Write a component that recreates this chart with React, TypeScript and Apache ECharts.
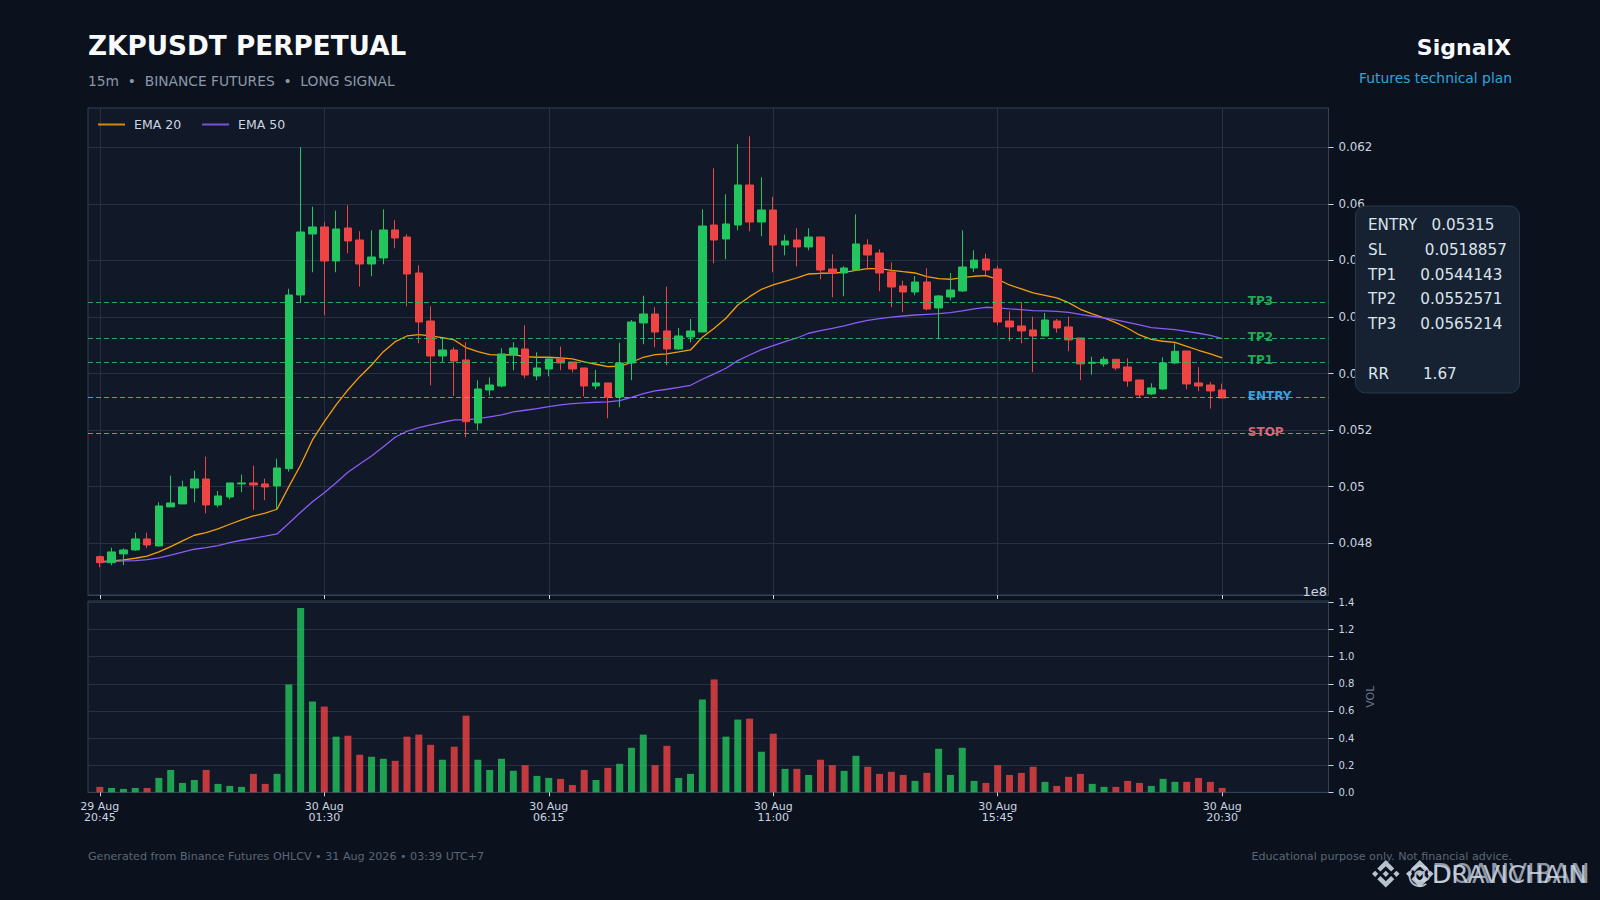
import React, { useEffect, useRef } from "react";
import * as echarts from "echarts";

const TITLE = "ZKPUSDT PERPETUAL";
const SUBTITLE = "15m  •  BINANCE FUTURES  •  LONG SIGNAL";
const BRAND = "SignalX";
const BRAND_SUB = "Futures technical plan";
const FOOT_LEFT = "Generated from Binance Futures OHLCV • 31 Aug 2026 • 03:39 UTC+7";
const FOOT_RIGHT = "Educational purpose only. Not financial advice.";
const PANEL_LINES = ["ENTRY   0.05315", "SL        0.0518857", "TP1     0.0544143", "TP2     0.0552571", "TP3     0.0565214", "", "RR       1.67"];

const TICK_LABELS = ["29 Aug\n20:45", "30 Aug\n01:30", "30 Aug\n06:15", "30 Aug\n11:00", "30 Aug\n15:45", "30 Aug\n20:30"];
const PRICE_TICKS = [0.048, 0.05, 0.052, 0.054, 0.056, 0.058, 0.06, 0.062];
const VOLUME_TICKS = [0, 0.2, 0.4, 0.6, 0.8, 1.0, 1.2, 1.4];

const LEVEL_NAMES = ["TP3", "TP2", "TP1", "ENTRY", "STOP"];
const LEVEL_VALUES = [0.0565214, 0.0552571, 0.0544143, 0.05315, 0.0518857];
const LEVEL_COLORS = ["#22c55e", "#22c55e", "#22c55e", "#38bdf8", "#fb7185"];

const OPEN = [0.047526,0.047314,0.047622,0.047763,0.048152,0.047905,0.049284,0.04939,0.049955,0.050273,0.049354,0.049637,0.050097,0.050132,0.050097,0.050026,0.050638,0.056779,0.058935,0.059183,0.057981,0.059147,0.058723,0.057875,0.058087,0.059077,0.058829,0.057556,0.055859,0.054622,0.054834,0.054481,0.052253,0.05342,0.053561,0.054657,0.054869,0.053915,0.054162,0.054516,0.05441,0.054198,0.053561,0.053668,0.053172,0.054374,0.055789,0.056107,0.055506,0.054869,0.055294,0.05547,0.059253,0.058758,0.059253,0.060668,0.059359,0.059784,0.058546,0.058723,0.058476,0.058829,0.057698,0.057556,0.057662,0.058546,0.058263,0.057592,0.057097,0.056885,0.057238,0.056319,0.056708,0.05692,0.057733,0.058051,0.057698,0.055859,0.055683,0.055541,0.055329,0.055859,0.055648,0.055258,0.054364,0.054339,0.054505,0.054233,0.053773,0.053279,0.053455,0.054374,0.054799,0.053668,0.053597,0.05342];
const HIGH = [0.047562,0.047845,0.047823,0.048375,0.048375,0.04945,0.05039,0.050213,0.050567,0.051062,0.049849,0.050132,0.050426,0.050744,0.050284,0.050991,0.057001,0.062,0.0599,0.059349,0.059759,0.05995,0.059031,0.059066,0.059808,0.05942,0.058925,0.057829,0.056379,0.055248,0.05493,0.055106,0.053763,0.053862,0.054894,0.055106,0.055707,0.054753,0.054587,0.054951,0.05441,0.054198,0.054127,0.053668,0.055092,0.055895,0.056754,0.056344,0.057072,0.055612,0.05593,0.059808,0.061258,0.060339,0.062106,0.062389,0.06094,0.060254,0.05891,0.059137,0.059137,0.05884,0.058218,0.057793,0.059632,0.058748,0.058394,0.057928,0.057284,0.05745,0.057723,0.056779,0.057556,0.059066,0.058359,0.058239,0.057814,0.056202,0.056531,0.056011,0.056142,0.05593,0.056011,0.055258,0.054598,0.054598,0.054505,0.054541,0.053773,0.053657,0.054576,0.055071,0.054799,0.054223,0.053703,0.053643];
const LOW = [0.047152,0.047222,0.047222,0.047728,0.047823,0.047887,0.049284,0.04939,0.04945,0.049061,0.049273,0.049556,0.049803,0.049177,0.04952,0.049202,0.050531,0.056521,0.057581,0.056061,0.057581,0.058253,0.057072,0.05744,0.057864,0.05843,0.056379,0.055071,0.053586,0.054399,0.053208,0.051748,0.051995,0.053226,0.053515,0.054116,0.053834,0.053763,0.053904,0.054116,0.054046,0.053198,0.053445,0.052419,0.052808,0.053763,0.055036,0.05493,0.054293,0.054834,0.055106,0.05547,0.057899,0.058041,0.059066,0.059031,0.058854,0.057581,0.058182,0.057793,0.058359,0.057334,0.056697,0.056733,0.057662,0.057662,0.056909,0.056344,0.056167,0.056768,0.056238,0.055212,0.056591,0.056885,0.057592,0.057486,0.055707,0.055142,0.055071,0.054046,0.055329,0.055446,0.054788,0.053763,0.053961,0.054244,0.054116,0.053537,0.053148,0.053243,0.053431,0.054329,0.053445,0.053374,0.052759,0.053137];
const CLOSE = [0.047314,0.047693,0.047763,0.048152,0.04794,0.049319,0.049425,0.049991,0.050273,0.049354,0.049672,0.050132,0.050132,0.050061,0.049991,0.050662,0.056779,0.059006,0.059183,0.057981,0.059112,0.058688,0.057875,0.058122,0.059077,0.058794,0.057521,0.055824,0.054622,0.054834,0.054445,0.052299,0.053455,0.053597,0.054693,0.054905,0.05395,0.054198,0.054516,0.054374,0.054162,0.053561,0.053668,0.053162,0.054374,0.055824,0.056107,0.05547,0.054869,0.055329,0.055506,0.059218,0.058723,0.059289,0.060668,0.059359,0.059784,0.058546,0.058688,0.058476,0.058829,0.057662,0.057556,0.057733,0.058582,0.058193,0.057556,0.057061,0.056885,0.057238,0.056284,0.056743,0.056955,0.057768,0.058016,0.057662,0.055824,0.055648,0.055506,0.055329,0.055895,0.055612,0.055188,0.054339,0.054399,0.054505,0.054198,0.053738,0.053243,0.053491,0.054374,0.054788,0.053632,0.053561,0.053385,0.053137];
const EMA20 = [0.04735,0.047374,0.04741,0.04747,0.047541,0.047693,0.04788,0.048082,0.048283,0.048375,0.048506,0.048672,0.048824,0.048965,0.049061,0.049202,0.050001,0.050768,0.051652,0.052299,0.05289,0.05342,0.05389,0.054304,0.054774,0.055128,0.055329,0.055375,0.055329,0.055269,0.055188,0.054915,0.054774,0.054668,0.054657,0.054668,0.054598,0.054576,0.054576,0.054551,0.054516,0.05441,0.054329,0.054244,0.054258,0.054399,0.054576,0.054668,0.054693,0.054763,0.054834,0.055283,0.055601,0.055955,0.056425,0.056719,0.05698,0.057132,0.057263,0.05738,0.057521,0.057546,0.057556,0.057581,0.057652,0.057708,0.057708,0.057652,0.057602,0.057556,0.057425,0.057355,0.057334,0.05739,0.05744,0.057461,0.057334,0.057132,0.056991,0.056849,0.056768,0.056673,0.056507,0.056273,0.056107,0.055965,0.055799,0.055601,0.055364,0.055212,0.055142,0.055106,0.054965,0.054824,0.054693,0.054551];
const EMA50 = [0.047328,0.04735,0.047374,0.047385,0.04742,0.04748,0.047576,0.047682,0.047788,0.047845,0.047915,0.048021,0.048106,0.048177,0.048248,0.048329,0.048708,0.049096,0.049471,0.049789,0.050143,0.05051,0.050804,0.051087,0.051415,0.051748,0.05196,0.052087,0.052183,0.052278,0.052359,0.052359,0.052405,0.052472,0.052536,0.052642,0.052702,0.052759,0.05283,0.05289,0.052936,0.05296,0.052985,0.052996,0.053042,0.053162,0.053289,0.053385,0.053445,0.053515,0.053586,0.053798,0.053986,0.054187,0.054456,0.054657,0.054845,0.054986,0.055128,0.055258,0.055425,0.055517,0.055601,0.055683,0.055789,0.055884,0.055941,0.055994,0.056036,0.056071,0.056096,0.056118,0.056153,0.056213,0.056284,0.056344,0.056319,0.056284,0.056259,0.056224,0.056213,0.056202,0.056167,0.056096,0.056026,0.055965,0.055895,0.055813,0.055718,0.055623,0.055587,0.055552,0.055495,0.055425,0.055354,0.055234];
const VOLUME = [0.04,0.032,0.025,0.032,0.032,0.106,0.165,0.069,0.091,0.165,0.062,0.047,0.04,0.136,0.062,0.136,0.795,1.358,0.669,0.632,0.41,0.417,0.277,0.262,0.247,0.232,0.41,0.425,0.35,0.24,0.336,0.565,0.24,0.165,0.247,0.158,0.2,0.121,0.106,0.099,0.054,0.165,0.091,0.18,0.21,0.328,0.425,0.2,0.343,0.106,0.136,0.684,0.832,0.41,0.536,0.543,0.299,0.432,0.173,0.173,0.128,0.24,0.2,0.158,0.269,0.188,0.136,0.151,0.128,0.084,0.143,0.321,0.128,0.328,0.084,0.069,0.2,0.128,0.143,0.188,0.077,0.047,0.114,0.136,0.062,0.04,0.04,0.084,0.069,0.047,0.099,0.077,0.077,0.106,0.077,0.032];

const GREEN = "#22c55e";
const RED = "#ef4444";
const FONT = "DejaVu Sans";
const SLOTS = 106;
const TICK_STEP = 19;
const BINANCE_D = "M16.624 13.9202l2.7175 2.7154-7.353 7.353-7.353-7.352 2.7175-2.7164 4.6355 4.6595 4.6356-4.6595zm4.6366-4.6366L24 12l-2.7154 2.7164L18.5682 12l2.6924-2.7164zm-9.272.001l2.7163 2.6914-2.7164 2.7174v-.001L9.2721 12l2.7164-2.7154zm-9.2722-.001L5.4088 12l-2.6914 2.6924L0 12l2.7164-2.7164zM11.9885.0115l7.353 7.329-2.7174 2.7154-4.6356-4.6356-4.6355 4.6595-2.7174-2.7154 7.353-7.353z";

const categories = Array.from({ length: SLOTS }, (_, k) => {
  const n = k - 1;
  return n >= 0 && n % TICK_STEP === 0 && n / TICK_STEP < TICK_LABELS.length ? TICK_LABELS[n / TICK_STEP] : "";
});
const isTick = (index: number) => categories[index] !== "";

function txt(text: string, x: number, y: number, fill: string, fontSize: number, extra: any = {}) {
  return {
    type: "text",
    z: 100,
    silent: true,
    style: { text, x, y, fill, fontSize, fontFamily: FONT, textVerticalAlign: "middle", ...extra },
  };
}

export default function App() {
  const ref = useRef<HTMLDivElement>(null);
  useEffect(() => {
    document.body.style.margin = "0";
    document.body.style.background = "#0b121e";
    echarts.graphic.registerShape("binanceLogo", echarts.graphic.extendPath(BINANCE_D, {}));
    const chart = echarts.init(ref.current!, undefined, { renderer: "svg" });
    const axisColor = "#334155";
    const gridColor = "#263243";
    const labelColor = "#cbd5e1";
    const logo = (x: number) => ({
      type: "binanceLogo",
      x,
      y: 860,
      scaleX: 1.15,
      scaleY: 1.15,
      z: 100,
      silent: true,
      style: { fill: "#cbd5e1", opacity: 0.9 },
    });
    chart.setOption({
      animation: false,
      backgroundColor: "#0b121e",
      textStyle: { fontFamily: FONT },
      legend: {
        data: ["EMA 20", "EMA 50"],
        icon: "rect",
        left: 98,
        top: 118,
        padding: 0,
        itemWidth: 27,
        itemHeight: 2,
        itemGap: 21,
        textStyle: { color: labelColor, fontSize: 12.5, fontFamily: FONT, padding: [0, 0, 0, 4] },
        itemStyle: { opacity: 0.85 },
      },
      grid: [
        { left: 88, right: 271.5, top: 108, height: 487, show: true, backgroundColor: "#111827", borderColor: axisColor, borderWidth: 1 },
        { left: 88, right: 271.5, top: 601, height: 191.3, show: true, backgroundColor: "#111827", borderColor: axisColor, borderWidth: 1 },
      ],
      xAxis: [
        {
          type: "category",
          gridIndex: 0,
          data: categories,
          boundaryGap: false,
          axisLine: { lineStyle: { color: axisColor } },
          axisTick: { show: true, interval: isTick, length: 4, lineStyle: { color: labelColor } },
          axisLabel: { show: false },
          splitLine: { show: true, interval: isTick, lineStyle: { color: gridColor } },
        },
        {
          type: "category",
          gridIndex: 1,
          data: categories,
          boundaryGap: false,
          axisLine: { lineStyle: { color: axisColor } },
          axisTick: { show: true, interval: isTick, length: 4, lineStyle: { color: labelColor } },
          axisLabel: { show: true, interval: isTick, color: labelColor, fontSize: 11, lineHeight: 11, margin: 9 },
          splitLine: { show: false },
        },
      ],
      yAxis: [
        {
          type: "value",
          gridIndex: 0,
          position: "right",
          min: 0.04617,
          max: 0.06339,
          axisLine: { show: true, lineStyle: { color: axisColor } },
          axisTick: { show: true, length: 5, customValues: PRICE_TICKS, lineStyle: { color: labelColor } },
          axisLabel: { color: labelColor, fontSize: 11.8, margin: 10, customValues: PRICE_TICKS, formatter: (v: number) => String(v) },
          splitLine: { show: true, lineStyle: { color: gridColor } },
        },
        {
          type: "value",
          gridIndex: 1,
          position: "right",
          min: 0,
          max: 1.41,
          name: "VOL",
          nameLocation: "middle",
          nameRotate: 90,
          nameGap: 27,
          nameTextStyle: { color: "#6b7686", fontSize: 11 },
          axisLine: { show: true, lineStyle: { color: axisColor } },
          axisTick: { show: true, length: 5, customValues: VOLUME_TICKS, lineStyle: { color: labelColor } },
          axisLabel: { color: labelColor, fontSize: 10, margin: 10, customValues: VOLUME_TICKS, formatter: (v: number) => v.toFixed(1) },
          splitLine: { show: true, lineStyle: { color: gridColor } },
        },
      ],
      series: [
        {
          name: "levels",
          type: "scatter",
          xAxisIndex: 0,
          yAxisIndex: 0,
          z: 1,
          silent: true,
          symbolSize: 0,
          data: LEVEL_NAMES.map((name, i) => ({
            name,
            value: [98, LEVEL_VALUES[i]],
            label: {
              show: true,
              position: "right",
              distance: 0,
              offset: [2, -1.5],
              formatter: name,
              color: LEVEL_COLORS[i],
              opacity: 0.85,
              fontSize: 12,
              fontWeight: "bold",
              fontFamily: FONT,
            },
          })),
          markLine: {
            silent: true,
            symbol: "none",
            precision: 7,
            label: { show: false },
            data: LEVEL_VALUES.map((v, i) => ({
              yAxis: v,
              lineStyle: { color: LEVEL_COLORS[i], type: [5, 3], width: 1.2, opacity: 0.85 },
            })),
          },
        },
        {
          name: "EMA 20",
          type: "line",
          xAxisIndex: 0,
          yAxisIndex: 0,
          z: 2,
          showSymbol: false,
          symbol: "none",
          lineStyle: { color: "#f59e0b", width: 1.3 },
          itemStyle: { color: "#f59e0b" },
          data: EMA20.map((v, i) => [i + 1, v]),
        },
        {
          name: "EMA 50",
          type: "line",
          xAxisIndex: 0,
          yAxisIndex: 0,
          z: 2,
          showSymbol: false,
          symbol: "none",
          lineStyle: { color: "#8b5cf6", width: 1.3 },
          itemStyle: { color: "#8b5cf6" },
          data: EMA50.map((v, i) => [i + 1, v]),
        },
        {
          name: "candles",
          type: "candlestick",
          xAxisIndex: 0,
          yAxisIndex: 0,
          z: 3,
          barWidth: 8,
          clip: false,
          encode: { x: 0, y: [1, 2, 3, 4] },
          itemStyle: { color: GREEN, color0: RED, borderColor: GREEN, borderColor0: RED, borderWidth: 1 },
          data: OPEN.map((o, i) => [i + 1, o, CLOSE[i], LOW[i], HIGH[i]]),
        },
        {
          name: "volume",
          type: "bar",
          xAxisIndex: 1,
          yAxisIndex: 1,
          barWidth: 7,
          itemStyle: {
            opacity: 0.8,
            color: (p: any) => (CLOSE[p.dataIndex] >= OPEN[p.dataIndex] ? GREEN : RED),
          },
          data: VOLUME.map((v, i) => [i + 1, v]),
        },
      ],
      graphic: [
        txt(TITLE, 88, 46, "#f8fafc", 26.3, { fontWeight: "bold" }),
        txt(SUBTITLE, 88, 81, "#8b98a8", 13.8),
        txt(BRAND, 1511, 47, "#f8fafc", 22, { fontWeight: "bold", textAlign: "right" }),
        txt(BRAND_SUB, 1512, 78, "#2fa4dc", 13.85, { textAlign: "right" }),
        txt("1e8", 1327, 591, labelColor, 13, { textAlign: "right" }),
        {
          type: "rect",
          z: 99,
          silent: true,
          shape: { x: 1355.5, y: 206, width: 164, height: 187, r: 10 },
          style: { fill: "#162231", stroke: "#2b394b", lineWidth: 1 },
        },
        ...PANEL_LINES.map((line, i) => txt(line, 1368, 225 + i * 24.8, "#dbe3ec", 15.2)),
        txt(FOOT_LEFT, 88, 856, "#5b6675", 11.13),
        txt(FOOT_RIGHT, 1512, 856, "#5b6675", 11.15, { textAlign: "right" }),
        logo(1372),
        logo(1406),
        txt("@DRAVICHAIN", 1407, 874, "#cbd5e1", 25, { opacity: 0.9 }),
        txt("DOANVIBAN", 1432, 874, "#cbd5e1", 26, { opacity: 0.7 }),
      ],
    });
    return () => chart.dispose();
  }, []);
  return <div ref={ref} style={{ position: "absolute", left: 0, top: 0, width: 1600, height: 900 }} />;
}
